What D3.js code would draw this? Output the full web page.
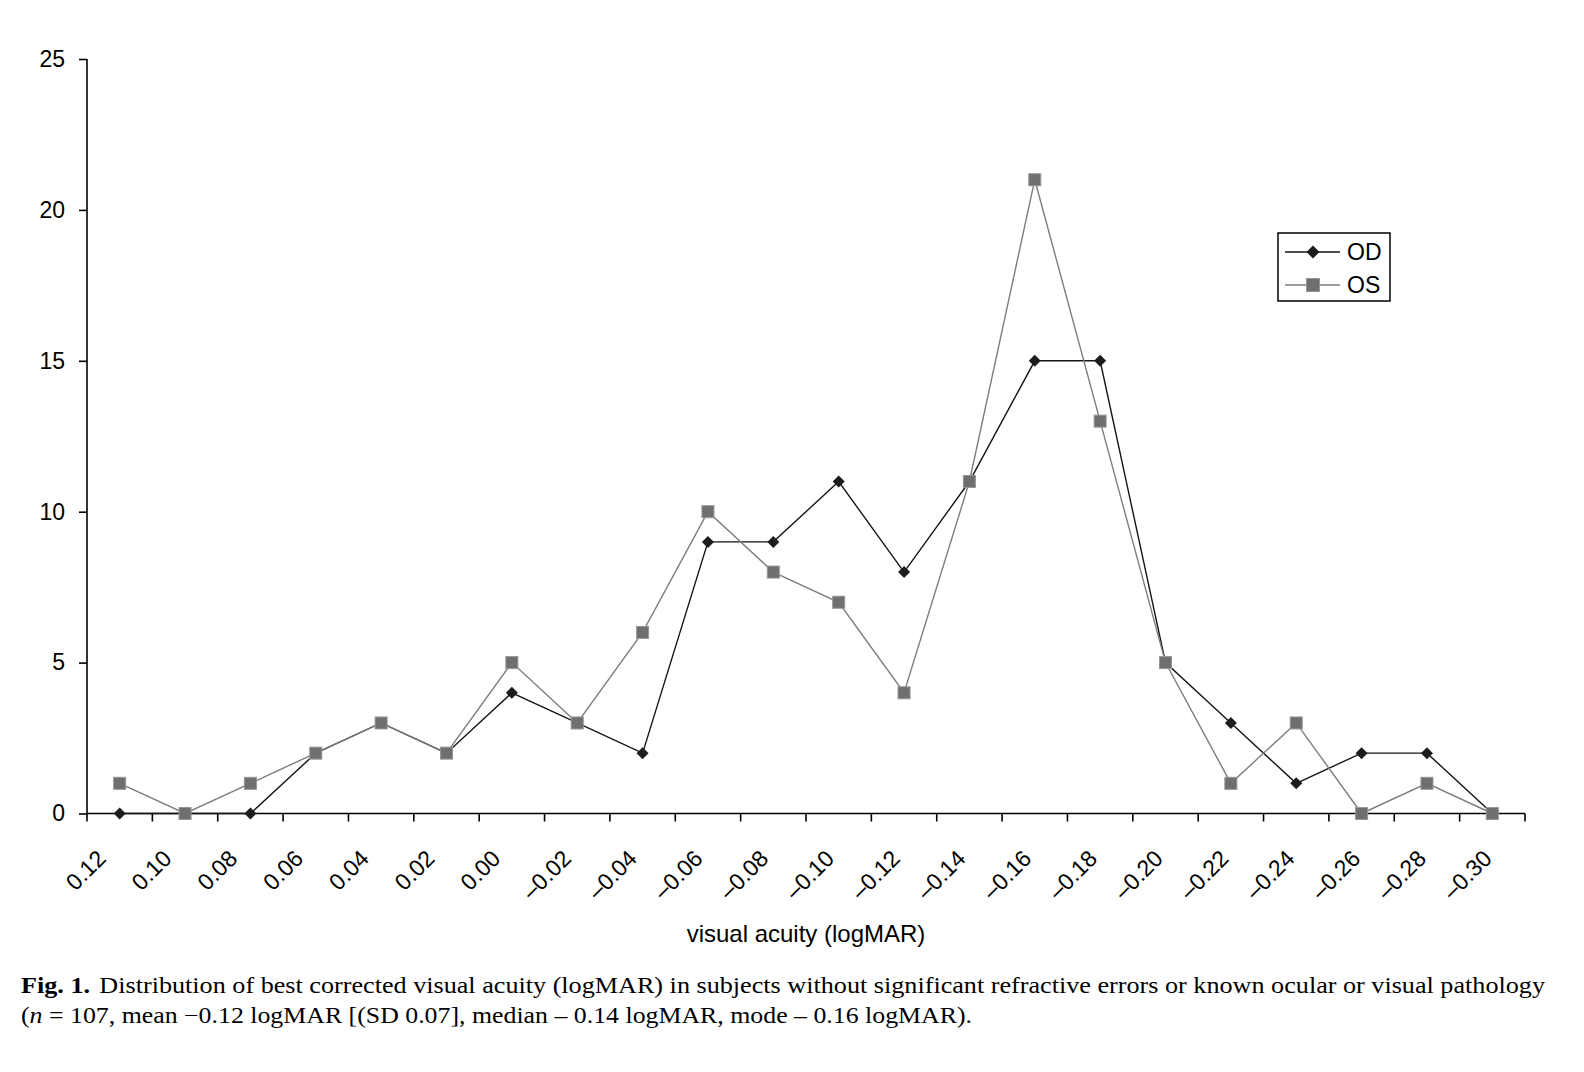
<!DOCTYPE html>
<html>
<head>
<meta charset="utf-8">
<script src="https://cdn.jsdelivr.net/npm/d3@7"></script>
<style>
  html, body { margin: 0; padding: 0; background: #fff; }
  svg { display: block; }
</style>
</head>
<body>
<svg id="chart" width="1584" height="1072"></svg>
<script>
// ---- data ----
const categories = ["0.12","0.10","0.08","0.06","0.04","0.02","0.00","–0.02","–0.04","–0.06","–0.08",
                    "–0.10","–0.12","–0.14","–0.16","–0.18","–0.20","–0.22","–0.24","–0.26","–0.28","–0.30"];
const odValues = [0,0,0,2,3,2,4,3,2,9,9,11,8,11,15,15,5,3,1,2,2,0];
const osValues = [1,0,1,2,3,2,5,3,6,10,8,7,4,11,21,13,5,1,3,0,1,0];
const yTicks = [0,5,10,15,20,25];
const seriesNames = ["OD","OS"];
const xTitle = "visual acuity (logMAR)";
const captionBold = "Fig. 1.";
const captionLine1 = "Distribution of best corrected visual acuity (logMAR) in subjects without significant refractive errors or known ocular or visual pathology";
const captionLine2Parts = [["(",""],["n","italic"],[" = 107, mean −0.12 logMAR [(SD 0.07], median – 0.14 logMAR, mode – 0.16 logMAR).",""]];

// ---- layout ----
const svg = d3.select("#chart");
const sans = "'Liberation Sans', Arial, Helvetica, sans-serif";
const serif = "'Liberation Serif', 'Times New Roman', Times, serif";
const x0 = 87, x1 = 1525, yBottom = 813.5, yTop = 59;

const x = d3.scaleBand().domain(categories).range([x0, x1]).padding(0);
const y = d3.scaleLinear().domain([0, 25]).range([yBottom, yTop]);
const cx = d => x(d) + x.bandwidth() / 2;

// y axis
const yAxis = svg.append("g").attr("transform", `translate(${x0},0)`)
  .call(d3.axisLeft(y).tickValues(yTicks).tickSize(8).tickPadding(14).tickFormat(d3.format("d")));
yAxis.select(".domain").attr("stroke", "#000").attr("stroke-width", 1.6).attr("d", `M0,${yTop}V${yBottom}`);
yAxis.selectAll(".tick line").attr("stroke", "#000").attr("stroke-width", 1.6);
yAxis.selectAll(".tick text").attr("font-family", sans).attr("font-size", 23).attr("fill", "#000");

// x axis line + boundary ticks
const gx = svg.append("g");
gx.append("line").attr("x1", x0).attr("x2", x1).attr("y1", yBottom).attr("y2", yBottom)
  .attr("stroke", "#000").attr("stroke-width", 1.6);
const boundaries = categories.map(c => x(c)).concat([x1]);
gx.selectAll("line.tk").data(boundaries).join("line").attr("class", "tk")
  .attr("x1", d => d).attr("x2", d => d).attr("y1", yBottom).attr("y2", yBottom + 8)
  .attr("stroke", "#000").attr("stroke-width", 1.6);
gx.selectAll("text.lbl").data(categories).join("text").attr("class", "lbl")
  .attr("transform", (d, i) => `translate(${cx(d) - 12.5 + 0.4 * i + (d.length > 4 ? 5 : 0)},860) rotate(-45)`)
  .attr("text-anchor", "end").attr("font-family", sans).attr("font-size", 23).attr("fill", "#000")
  .text(d => d);

// axis title
svg.append("text").attr("x", (x0 + x1) / 2).attr("y", 942).attr("text-anchor", "middle")
  .attr("font-family", sans).attr("font-size", 24).attr("fill", "#000").text(xTitle);

// series
const line = d3.line().x((d, i) => cx(categories[i])).y(d => y(d));
const odColor = "#151515", osColor = "#7d7d7d";
const diamond = (s) => `M0,${-s}L${s},0L0,${s}L${-s},0Z`;

svg.append("path").datum(odValues).attr("d", line).attr("fill", "none")
  .attr("stroke", odColor).attr("stroke-width", 1.4);
svg.selectAll("path.od").data(odValues).join("path").attr("class", "od")
  .attr("transform", (d, i) => `translate(${cx(categories[i])},${y(d)})`)
  .attr("d", diamond(6)).attr("fill", "#1c1c1c");

svg.append("path").datum(osValues).attr("d", line).attr("fill", "none")
  .attr("stroke", osColor).attr("stroke-width", 1.4);
svg.selectAll("rect.os").data(osValues).join("rect").attr("class", "os")
  .attr("x", (d, i) => cx(categories[i]) - 6).attr("y", d => y(d) - 6)
  .attr("width", 12).attr("height", 12)
  .attr("fill", "#6f6f6f").attr("stroke", "#959595").attr("stroke-width", 1);

// legend
const lg = svg.append("g");
lg.append("rect").attr("x", 1278).attr("y", 233).attr("width", 112).attr("height", 68)
  .attr("fill", "#fff").attr("stroke", "#000").attr("stroke-width", 1.5);
const rows = [{name: seriesNames[0], y: 252, c: odColor}, {name: seriesNames[1], y: 285, c: osColor}];
rows.forEach((r, k) => {
  lg.append("line").attr("x1", 1285).attr("x2", 1340).attr("y1", r.y).attr("y2", r.y)
    .attr("stroke", r.c).attr("stroke-width", 1.4);
  if (k === 0) {
    lg.append("path").attr("transform", `translate(1313,${r.y})`).attr("d", diamond(6.5)).attr("fill", "#1c1c1c");
  } else {
    lg.append("rect").attr("x", 1313 - 6.5).attr("y", r.y - 6.5).attr("width", 13).attr("height", 13)
      .attr("fill", "#6f6f6f").attr("stroke", "#959595").attr("stroke-width", 1);
  }
  lg.append("text").attr("x", 1347).attr("y", r.y).attr("dy", "0.35em")
    .attr("font-family", sans).attr("font-size", 23).attr("fill", "#000").text(r.name);
});

// caption (line 1 justified to full width, line 2 natural)
const capSize = 22.5;
const capLeft = 21, capRight = 1545, cap2Right = 972;
const cap1 = svg.append("text").attr("x", capLeft).attr("y", 993).attr("font-family", serif)
  .attr("font-size", capSize).attr("fill", "#000")
  .attr("textLength", capRight - capLeft).attr("lengthAdjust", "spacingAndGlyphs");
cap1.append("tspan").attr("font-weight", "bold").text(captionBold);
cap1.append("tspan").attr("dx", 8).text(captionLine1);

const cap2 = svg.append("text").attr("x", capLeft).attr("y", 1022.5).attr("font-family", serif)
  .attr("font-size", capSize).attr("fill", "#000")
  .attr("textLength", cap2Right - capLeft).attr("lengthAdjust", "spacingAndGlyphs");
captionLine2Parts.forEach(p => cap2.append("tspan").attr("font-style", p[1] || "normal").text(p[0]));
</script>
</body>
</html>
